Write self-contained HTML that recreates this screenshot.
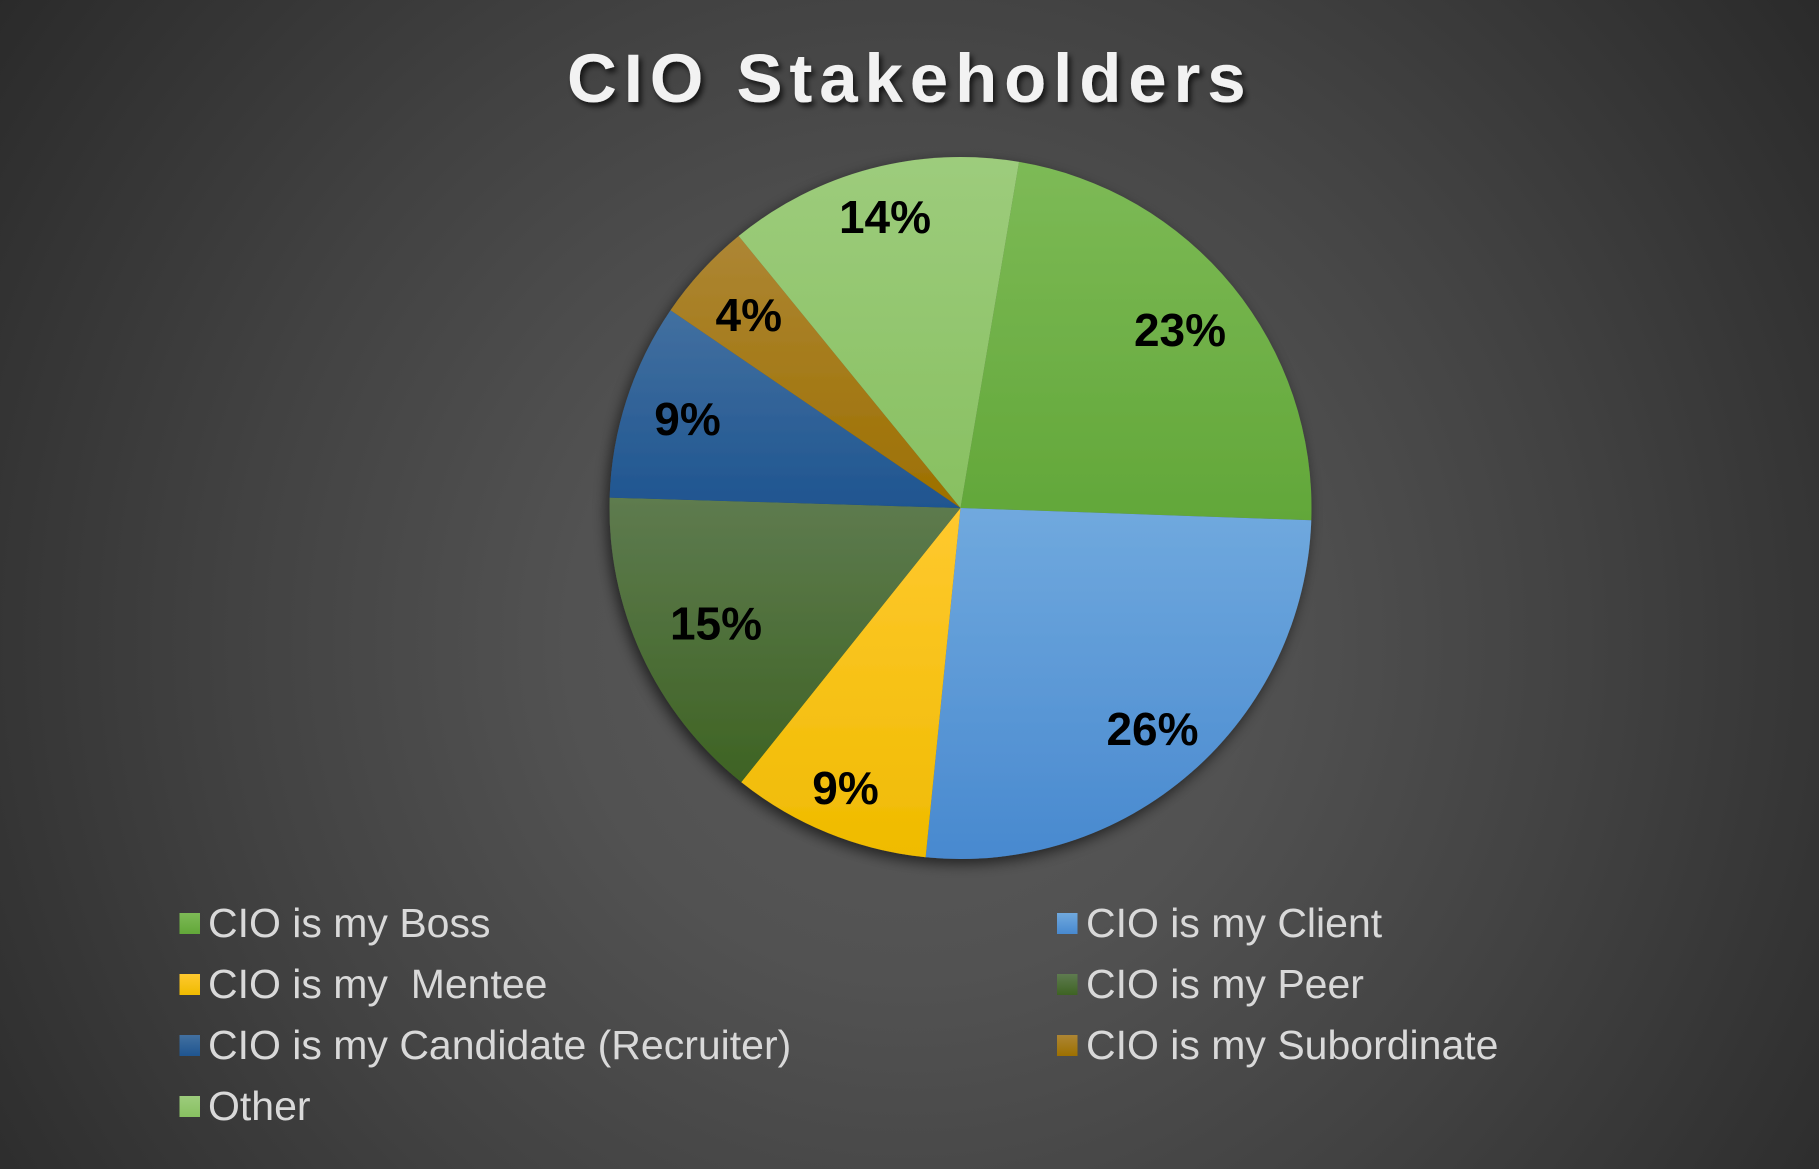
<!DOCTYPE html>
<html>
<head>
<meta charset="utf-8">
<style>
  html, body { margin: 0; padding: 0; }
  body { width: 1819px; height: 1169px; overflow: hidden; background: #2c2c2c; }
  svg { display: block; }
  text { font-family: "Liberation Sans", Arial, sans-serif; }
</style>
</head>
<body>
<svg width="1819" height="1169" viewBox="0 0 1819 1169" xmlns="http://www.w3.org/2000/svg">
  <defs>
    <radialGradient id="bg" cx="909" cy="640" r="1120" gradientUnits="userSpaceOnUse">
      <stop offset="0" stop-color="#5a5a5a"/>
      <stop offset="0.3" stop-color="#525252"/>
      <stop offset="0.6" stop-color="#424242"/>
      <stop offset="0.85" stop-color="#333333"/>
      <stop offset="1" stop-color="#2a2a2a"/>
    </radialGradient>
    <linearGradient id="gBoss" x1="0" y1="0" x2="0" y2="1"><stop offset="0" stop-color="#7dba56"/><stop offset="1" stop-color="#62a739"/></linearGradient>
    <linearGradient id="gClient" x1="0" y1="0" x2="0" y2="1"><stop offset="0" stop-color="#70a9de"/><stop offset="1" stop-color="#4889cf"/></linearGradient>
    <linearGradient id="gMentee" x1="0" y1="0" x2="0" y2="1"><stop offset="0" stop-color="#ffc92f"/><stop offset="1" stop-color="#efbb00"/></linearGradient>
    <linearGradient id="gPeer" x1="0" y1="0" x2="0" y2="1"><stop offset="0" stop-color="#5e7b4f"/><stop offset="1" stop-color="#3e6323"/></linearGradient>
    <linearGradient id="gCand" x1="0" y1="0" x2="0" y2="1"><stop offset="0" stop-color="#4270a0"/><stop offset="1" stop-color="#1f5590"/></linearGradient>
    <linearGradient id="gSub" x1="0" y1="0" x2="0" y2="1"><stop offset="0" stop-color="#ad8634"/><stop offset="1" stop-color="#9d7000"/></linearGradient>
    <linearGradient id="gOther" x1="0" y1="0" x2="0" y2="1"><stop offset="0" stop-color="#9dcc7c"/><stop offset="1" stop-color="#88c061"/></linearGradient>
    <filter id="pieShadow" x="-20%" y="-20%" width="140%" height="140%">
      <feDropShadow dx="-3" dy="5" stdDeviation="7" flood-color="#000" flood-opacity="0.6"/>
    </filter>
    <filter id="titleShadow" x="-10%" y="-30%" width="120%" height="160%">
      <feDropShadow dx="3" dy="4" stdDeviation="3" flood-color="#000" flood-opacity="0.7"/>
    </filter>
  </defs>

  <rect x="0" y="0" width="1819" height="1169" fill="url(#bg)"/>

  <!-- Title -->
  <text x="567" y="102" font-size="69" font-weight="bold" fill="#f2f2f2" letter-spacing="6.9" filter="url(#titleShadow)">CIO Stakeholders</text>

  <!-- Pie -->
  <g filter="url(#pieShadow)">
    <path d="M960.5,508 L1019.04,161.91 A351,351 0 0 1 1311.29,520.25 Z" fill="url(#gBoss)"/>
    <path d="M960.5,508 L1311.29,520.25 A351,351 0 0 1 925.64,857.27 Z" fill="url(#gClient)"/>
    <path d="M960.5,508 L925.64,857.27 A351,351 0 0 1 741.27,782.12 Z" fill="url(#gMentee)"/>
    <path d="M960.5,508 L741.27,782.12 A351,351 0 0 1 609.65,497.59 Z" fill="url(#gPeer)"/>
    <path d="M960.5,508 L609.65,497.59 A351,351 0 0 1 670.54,310.2 Z" fill="url(#gCand)"/>
    <path d="M960.5,508 L670.54,310.2 A351,351 0 0 1 738.66,236.0 Z" fill="url(#gSub)"/>
    <path d="M960.5,508 L738.66,236.0 A351,351 0 0 1 1019.04,161.91 Z" fill="url(#gOther)"/>
  </g>

  <!-- Data labels -->
  <g font-size="46" font-weight="bold" fill="#000" text-anchor="middle">
    <text x="1180" y="346">23%</text>
    <text x="1152.5" y="745">26%</text>
    <text x="845.5" y="804">9%</text>
    <text x="716" y="639.5">15%</text>
    <text x="687.5" y="435">9%</text>
    <text x="748.8" y="331">4%</text>
    <text x="885" y="233">14%</text>
  </g>

  <!-- Legend -->
  <g>
    <rect x="179.5" y="913" width="20.5" height="21" fill="url(#gBoss)"/>
    <rect x="179.5" y="974" width="20.5" height="21" fill="url(#gMentee)"/>
    <rect x="179.5" y="1035" width="20.5" height="21" fill="url(#gCand)"/>
    <rect x="179.5" y="1096" width="20.5" height="21" fill="url(#gOther)"/>
    <rect x="1057" y="913" width="20.5" height="21" fill="url(#gClient)"/>
    <rect x="1057" y="974" width="20.5" height="21" fill="url(#gPeer)"/>
    <rect x="1057" y="1035" width="20.5" height="21" fill="url(#gSub)"/>
  </g>
  <g font-size="41" fill="#d9d9d9" style="white-space:pre">
    <text x="208" y="937" xml:space="preserve">CIO is my Boss</text>
    <text x="208" y="998" xml:space="preserve">CIO is my  Mentee</text>
    <text x="208" y="1059" xml:space="preserve">CIO is my Candidate (Recruiter)</text>
    <text x="208" y="1120" xml:space="preserve">Other</text>
    <text x="1086" y="937" xml:space="preserve">CIO is my Client</text>
    <text x="1086" y="998" xml:space="preserve">CIO is my Peer</text>
    <text x="1086" y="1059" xml:space="preserve">CIO is my Subordinate</text>
  </g>
</svg>
</body>
</html>
